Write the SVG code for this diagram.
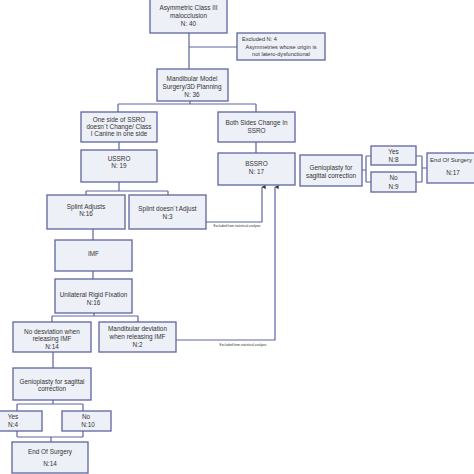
<svg xmlns="http://www.w3.org/2000/svg" width="474" height="474" viewBox="0 0 474 474">
<defs>
<style>
.b{fill:#eef0f8;stroke:#5f649f;stroke-width:1.3}
.c{fill:none;stroke:#5f649f;stroke-width:1.2}
text{font-family:"Liberation Sans",Arial,sans-serif;font-size:6.4px;fill:#333;text-anchor:middle}
.s{font-size:5.6px}
.t{font-size:3.2px}
</style>
<marker id="ah" viewBox="0 0 6 6" refX="3" refY="0.5" markerWidth="4" markerHeight="4" orient="auto-start-reverse" markerUnits="userSpaceOnUse">
<path d="M0,6 L3,0 L6,6 Z" fill="#333"/>
</marker>
</defs>
<rect width="474" height="474" fill="#fff"/>
<g id="connectors">
<path class="c" d="M189,33 V69 M189,47 H237"/>
<path class="c" d="M190,101 V104 M118,104 H256 M118,104 V112 M256,104 V112"/>
<path class="c" d="M119,142 V150 M256,142 V153"/>
<path class="c" d="M362,170 H366 M366,156 V182 M366,156 H371 M366,182 H371"/>
<path class="c" d="M416,156 H422 M416,182 H422 M422,156 V182 M422,168 H427"/>
<path class="c" d="M119,182 V191 M86,191 H168 M86,191 V195 M168,191 V195"/>
<path class="c" d="M93,229 V240 M93,271 V279"/>
<path class="c" d="M94,313 V316 M52,316 H138 M52,316 V322 M138,316 V322"/>
<path class="c" d="M53,352 V368 M53,400 V404 M17,404 H83 M17,404 V411 M83,404 V411"/>
<path class="c" d="M17,431 V437 M83,431 V437 M17,437 H83 M51,437 V442"/>
<path class="c" d="M206,222 H262 V187" marker-end="url(#ah)"/>
<path class="c" d="M176,340 H275 V187" marker-end="url(#ah)"/>
<text class="t" x="237" y="227">Excluded from statistical analysis</text>
<text class="t" x="243" y="346">Excluded from statistical analysis</text>
</g>
<g id="n1"><rect class="b" x="150" y="-1" width="77" height="34"/>
<text x="188.5" y="10">Asymmetric Class III</text><text x="188.5" y="18">malocclusion</text><text x="188.5" y="25.5">N: 40</text></g>
<g id="excl"><rect class="b" x="237" y="33" width="88" height="27"/>
<text class="s" x="242" y="41" style="text-anchor:start">Excluded N: 4</text><text class="s" x="281" y="49">Asymmetries whose origin is</text><text class="s" x="281" y="55.5">not latero-dysfunctional</text></g>
<g id="n2"><rect class="b" x="157" y="69" width="71" height="32"/>
<text x="192" y="81">Mandibular Model</text><text x="192" y="89">Surgery/3D Planning</text><text x="192" y="96.5">N: 36</text></g>
<g id="oneside"><rect class="b" x="81" y="112" width="76" height="30"/>
<text x="119" y="121.5">One side of SSRO</text><text x="119" y="128.5">doesn´t Change/ Class</text><text x="119" y="136">I Canine in one side</text></g>
<g id="both"><rect class="b" x="218" y="112" width="77" height="30"/>
<text x="256.5" y="125">Both Sides Change In</text><text x="256.5" y="132.5">SSRO</text></g>
<g id="ussro"><rect class="b" x="81" y="150" width="76" height="32"/>
<text x="119" y="161">USSRO</text><text x="119" y="168">N: 19</text></g>
<g id="bssro"><rect class="b" x="218" y="153" width="77" height="32"/>
<text x="256.5" y="166">BSSRO</text><text x="256.5" y="173.5">N: 17</text></g>
<g id="genio1"><rect class="b" x="300" y="155" width="62" height="31"/>
<text x="331" y="170">Genioplasty for</text><text x="331" y="177.5">sagittal correction</text></g>
<g id="yes1"><rect class="b" x="371" y="146" width="45" height="19"/>
<text x="393.5" y="154">Yes</text><text x="393.5" y="162">N:8</text></g>
<g id="no1"><rect class="b" x="371" y="172" width="45" height="20"/>
<text x="393.5" y="180">No</text><text x="393.5" y="189">N:9</text></g>
<g id="end1"><rect class="b" x="427" y="153" width="56" height="30"/>
<text x="451" y="162" style="font-size:6.1px">End Of Surgery</text><text x="453" y="175">N:17</text></g>
<g id="splint1"><rect class="b" x="47" y="195" width="78" height="34"/>
<text x="86" y="209">Splint Adjusts</text><text x="86" y="216">N:16</text></g>
<g id="splint2"><rect class="b" x="129" y="195" width="77" height="34"/>
<text x="167.5" y="211">Splint doesn´t Adjust</text><text x="167.5" y="219">N:3</text></g>
<g id="imf"><rect class="b" x="55" y="240" width="77" height="31"/>
<text x="93.5" y="256">IMF</text></g>
<g id="urf"><rect class="b" x="55" y="279" width="77" height="34"/>
<text x="93.5" y="297">Unilateral Rigid Fixation</text><text x="93.5" y="305">N:16</text></g>
<g id="nodev"><rect class="b" x="13" y="322" width="78" height="30"/>
<text x="52" y="334">No desviation when</text><text x="52" y="341">releasing IMF</text><text x="52" y="348.5">N:14</text></g>
<g id="manddev"><rect class="b" x="99" y="322" width="77" height="30"/>
<text x="137.5" y="331">Mandibular deviation</text><text x="137.5" y="339">when releasing IMF</text><text x="137.5" y="347">N:2</text></g>
<g id="genio2"><rect class="b" x="13" y="368" width="78" height="32"/>
<text x="52" y="384">Genioplasty for sagittal</text><text x="52" y="391">correction</text></g>
<g id="yes2"><rect class="b" x="-12" y="411" width="54" height="20"/>
<text x="13" y="418.5">Yes</text><text x="13" y="427">N:4</text></g>
<g id="no2"><rect class="b" x="62" y="411" width="49" height="20"/>
<text x="86" y="418.5">No</text><text x="88" y="427">N:10</text></g>
<g id="end2"><rect class="b" x="12" y="442" width="76" height="31"/>
<text x="50" y="454">End Of Surgery</text><text x="50" y="466">N:14</text></g>
</svg>
